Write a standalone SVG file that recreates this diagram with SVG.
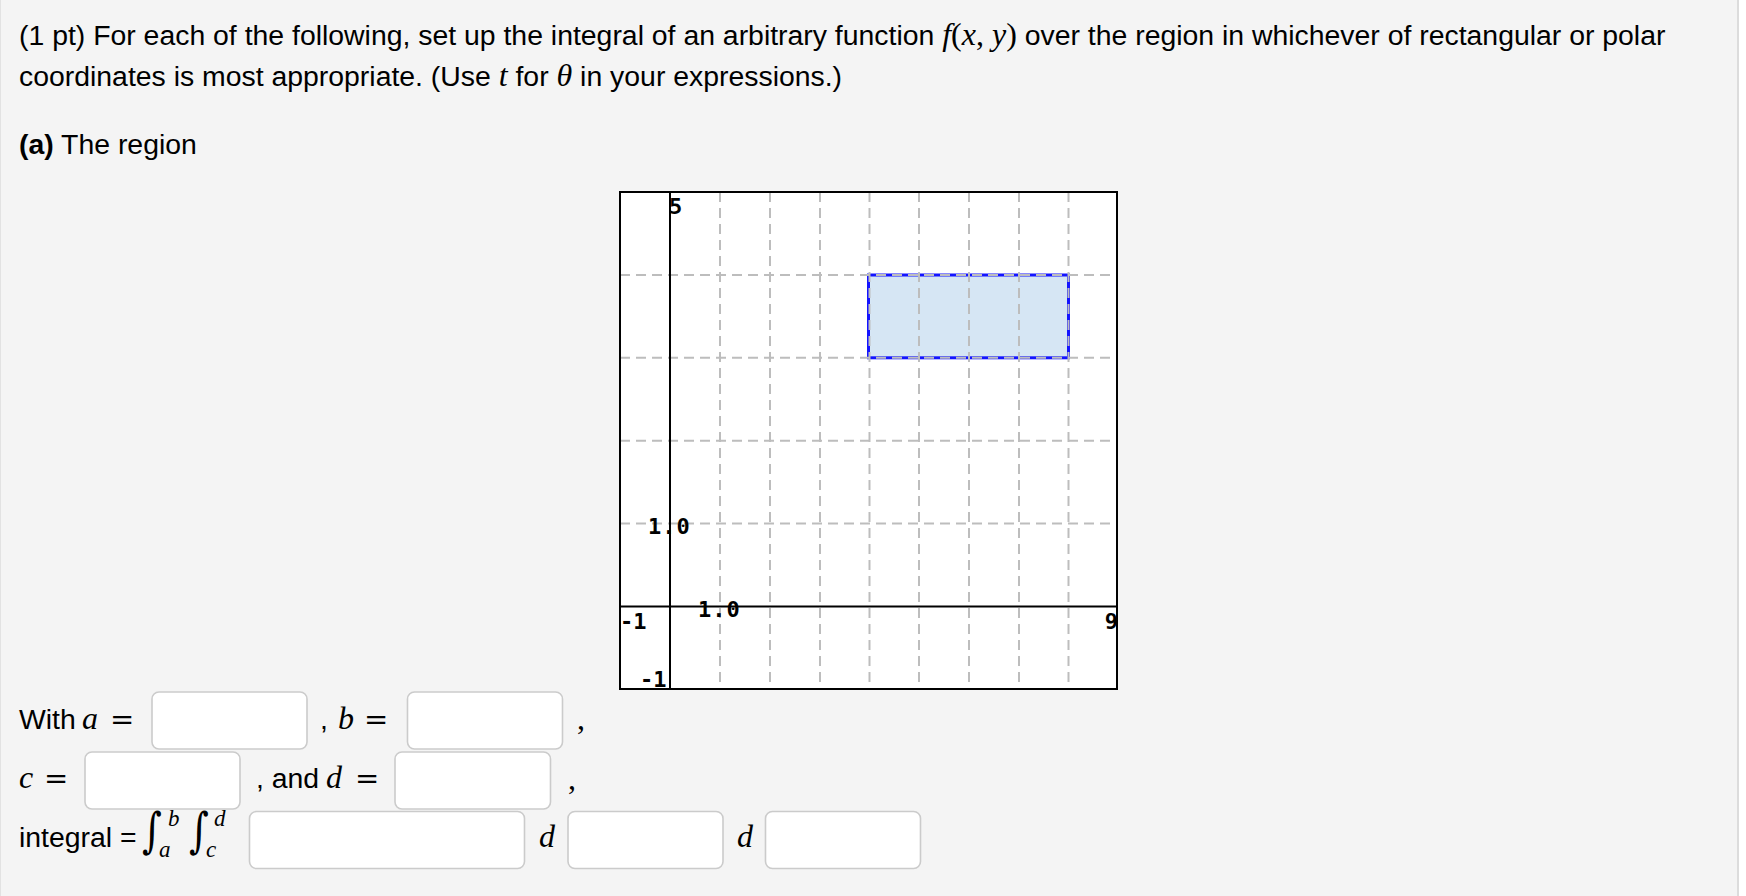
<svg xmlns="http://www.w3.org/2000/svg" width="1746" height="896" viewBox="0 0 1746 896">
<style>
.t{font-family:"Liberation Sans",Arial,sans-serif;font-size:28.4px;fill:#000}
.m{font-family:"Liberation Serif","Times New Roman",serif;font-style:italic;font-size:32px;fill:#000}
.mu{font-family:"Liberation Serif","Times New Roman",serif;font-style:normal;font-size:32px;fill:#000}
.eq{font-family:"DejaVu Sans",sans-serif;font-size:29px;fill:#000}
.int{font-family:"DejaVu Serif",serif;font-style:italic;font-size:38px;fill:#000}
.sm{font-family:"Liberation Serif","Times New Roman",serif;font-style:italic;font-size:23px;fill:#000}
.box{fill:#fff;stroke:#cbcbcb;stroke-width:1.6}
.grid{stroke:#bdbdbd;stroke-width:2;stroke-dasharray:10 6;fill:none}
.ax{stroke:#000;stroke-width:2;fill:none}
.lbl{font-family:"DejaVu Sans Mono","Liberation Mono",monospace;font-weight:bold;font-size:22px;fill:#000}
</style>
<g id="page">
<rect x="0" y="0" width="1746" height="896" fill="#fff"/>
<rect x="0" y="0" width="1738" height="896" fill="#f4f4f4"/>
<line x1="1738" y1="0" x2="1738" y2="896" stroke="#dcdcdc" stroke-width="2"/>
<line x1="0.5" y1="0" x2="0.5" y2="896" stroke="#e2e2e2" stroke-width="1"/>
</g>
<g id="header">
<text class="t" x="19" y="45">(1 pt) For each of the following, set up the integral of an arbitrary function <tspan class="m">f</tspan><tspan class="mu">(</tspan><tspan class="m">x</tspan><tspan class="mu">, </tspan><tspan class="m">y</tspan><tspan class="mu">)</tspan> over the region in whichever of rectangular or polar</text>
<text class="t" x="19" y="86">coordinates is most appropriate. (Use <tspan class="m">t</tspan> for <tspan class="m">θ</tspan> in your expressions.)</text>
<text class="t" x="19" y="154"><tspan font-weight="bold">(a)</tspan> The region</text>
</g>
<g id="graph">
<rect x="620" y="192" width="497" height="497" fill="#fff"/>
<rect id="region" x="868.5" y="275" width="200" height="82.8" fill="#d6e6f4" stroke="#1414ff" stroke-width="3"/>
<g class="grid">
<line x1="720" y1="192" x2="720" y2="689"/>
<line x1="770" y1="192" x2="770" y2="689"/>
<line x1="820" y1="192" x2="820" y2="689"/>
<line x1="869.5" y1="192" x2="869.5" y2="689"/>
<line x1="919" y1="192" x2="919" y2="689"/>
<line x1="969" y1="192" x2="969" y2="689"/>
<line x1="1019" y1="192" x2="1019" y2="689"/>
<line x1="1068.5" y1="192" x2="1068.5" y2="689"/>
<line x1="620" y1="275" x2="1117" y2="275"/>
<line x1="620" y1="357.8" x2="1117" y2="357.8"/>
<line x1="620" y1="440.7" x2="1117" y2="440.7"/>
<line x1="620" y1="523.5" x2="1117" y2="523.5"/>
</g>
<line class="ax" x1="620" y1="606.5" x2="1117" y2="606.5"/>
<line class="ax" x1="670" y1="192" x2="670" y2="689"/>
<rect class="ax" x="620" y="192" width="497" height="497"/>
<text class="lbl" x="669" y="214">5</text>
<text class="lbl" x="648" y="534" letter-spacing="1">1.0</text>
<text class="lbl" x="698" y="617" letter-spacing="1">1.0</text>
<text class="lbl" x="620" y="629">-1</text>
<text class="lbl" x="640" y="687">-1</text>
<text class="lbl" x="1118" y="629" text-anchor="end">9</text>
</g>
<g id="row1">
<text class="t" x="19" y="729">With</text>
<text class="m" x="82" y="729">a</text>
<text class="eq" x="110" y="729">=</text>
<rect class="box" x="152" y="692" width="155" height="57" rx="7"/>
<text class="t" x="320" y="729">,</text>
<text class="m" x="338" y="729">b</text>
<text class="eq" x="364" y="729">=</text>
<rect class="box" x="407.5" y="692" width="155" height="57" rx="7"/>
<text class="mu" x="577" y="729">,</text>
</g>
<g id="row2">
<text class="m" x="19" y="788">c</text>
<text class="eq" x="44" y="788">=</text>
<rect class="box" x="85" y="752" width="155" height="57" rx="7"/>
<text class="t" x="256" y="788">, and</text>
<text class="m" x="326" y="788">d</text>
<text class="eq" x="355" y="788">=</text>
<rect class="box" x="395" y="752" width="155.5" height="57" rx="7"/>
<text class="mu" x="568" y="789">,</text>
</g>
<g id="row3">
<text class="t" x="19" y="847">integral =</text>
<text class="int" transform="translate(142 846.5) scale(1 1.27)" x="0" y="0">∫</text>
<text class="sm" x="168" y="826">b</text>
<text class="sm" x="159" y="857">a</text>
<text class="int" transform="translate(189 846.5) scale(1 1.27)" x="0" y="0">∫</text>
<text class="sm" x="214" y="826">d</text>
<text class="sm" x="206" y="857">c</text>
<rect class="box" x="249.5" y="811.5" width="275" height="57" rx="7"/>
<text class="m" x="539" y="847">d</text>
<rect class="box" x="568" y="811.5" width="155" height="57" rx="7"/>
<text class="m" x="737" y="847">d</text>
<rect class="box" x="765.5" y="811.5" width="155" height="57" rx="7"/>
</g>
</svg>
